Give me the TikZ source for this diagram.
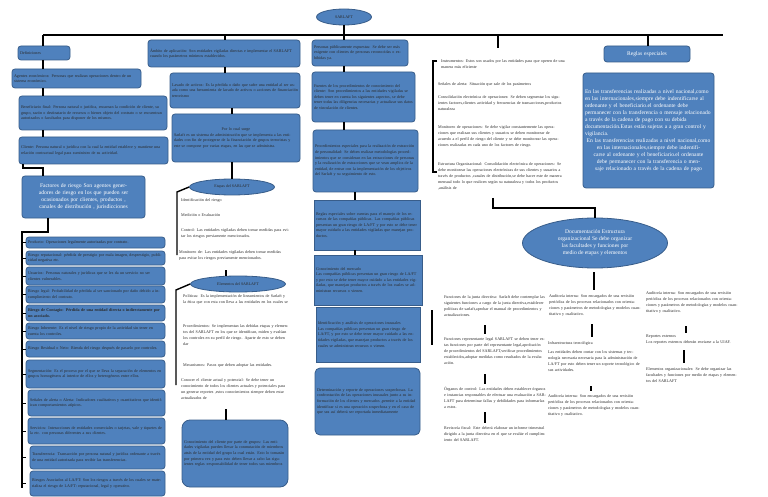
\documentclass[tikz,border=0pt]{standalone}
\usepackage{fontspec}
\setmainfont{Liberation Serif}
\definecolor{boxc}{HTML}{4F81BD}
\definecolor{bordc}{HTML}{385D8A}
\definecolor{txc}{HTML}{2A2A2A}
\tikzset{
 box/.style={draw=bordc,fill=boxc,rounded corners=3pt,line width=0.8pt,inner sep=2pt,align=left,text=txc,font=\fontsize{4.1}{5.6}\selectfont},
 sqbox/.style={box,rounded corners=0pt},
 wt/.style={text=white,font=\fontsize{5.6}{7}\selectfont,align=center},
 plain/.style={inner sep=1pt,align=left,text=txc,font=\fontsize{4.1}{6}\selectfont,anchor=north west},
 elli/.style={ellipse,draw=bordc,fill=boxc,line width=0.8pt,inner sep=0pt,text=txc,font=\fontsize{4}{5}\selectfont},
 conn/.style={line width=1.4pt,black},
 thick2/.style={line width=2pt,black}
}
\usetikzlibrary{shapes.geometric}
\newcommand\bx[7][]{\pgfmathsetmacro\bw{#5-#3}\pgfmathsetmacro\bh{#6-#4}\pgfmathsetmacro\tw{#5-#3-4}%
 \node[box,#1,minimum width=\bw pt,minimum height=\bh pt,text width=\tw pt] (#2) at ({(#3+#5)/2},{-(#4+#6)/2}) {#7};}
\newcommand\tx[5]{\node[plain,text width=#4pt] (#1) at (#2,-#3) {#5};}
\begin{document}
\begin{tikzpicture}[x=1pt,y=1pt]
\useasboundingbox (0,0) rectangle (768,-497);
\fill[white] (0,0) rectangle (768,-497);
% title and top bar
\node[elli,minimum width=55pt,minimum height=16pt] (title) at (344,-17) {SARLAFT};
\coordinate (tl) at (43,-35); \coordinate (tr) at (723,-35);
\draw[conn] (title.south) -- (344,-35);
\draw[conn] (tl) -- (tr);
% left column
\bx{def}{18}{46}{70}{60}{\centering Definiciones}
\bx{age}{12}{69}{141}{88}{Agentes económicos: Personas que realizan operaciones dentro de un sistema económico.}
\bx{ben}{19}{96}{167}{130}{Beneficiario final: Persona natural o jurídica, encarnan la condición de cliente, su grupo, razón o destinatario de recursos o bienes objeto del contrato o se encuentran autorizados o facultados para disponer de los mismos.}
\bx{cli}{19}{137}{168}{164}{Cliente: Persona natural o jurídica con la cual la entidad establece y mantiene una relación contractual legal para suministro de su actividad.}
\bx[wt]{fac}{22}{176}{145}{218}{Factores de riesgo Son agentes generadores de riesgo en los que pueden ser ocasionados por clientes, productos , canales de distribución , jurisdicciones}
\draw[conn] (tl) -- (def.north -| tl);
\draw[conn] (43,-60) -- (43,-69);
\draw[conn] (43,-88) -- (43,-96);
\draw[conn] (43,-130) -- (43,-137);
\draw[conn] (23,-164) -- (23,-168) -- (43,-168) -- (fac.north -| 43,0);
\draw[conn] (48,-218) -- (48,-232) -- (22,-232) -- (22,-488);
\bx{r1}{26}{237}{165}{248}{Producto: Operaciones legalmente autorizadas por contrato.}
\bx{r2}{26}{251}{165}{265}{Riesgo reputacional: pérdida de prestigio por mala imagen, desprestigio, publicidad negativa etc.}
\bx{r3}{26}{267}{165}{285}{Usuarios: Personas naturales y jurídicas que se les da un servicio no ser clientes vulnerables.}
\bx{r4}{26}{286}{165}{303}{Riesgo legal: Probabilidad de pérdida al ser sancionado por daño debido a incumplimiento del contrato.}
\bx{r5}{26}{305}{165}{321}{\textbf{Riesgo de Contagio: Pérdida de una entidad directa o indirectamente por un asociado.}}
\bx{r6}{26}{323}{165}{339}{Riesgo Inherente: Es el nivel de riesgo propio de la actividad sin tener en cuenta los controles.}
\bx{r7}{26}{341}{165}{357}{Riesgo Residual o Neto: Rienda del riesgo después de pasarlo por controles.}
\bx{r8}{26}{360}{165}{388}{Segmentación: Es el proceso por el que se lleva la separación de elementos en grupos homogéneos al interior de ellos y heterogéneos entre ellos.}
\bx{r9}{28}{390}{165}{416}{Señales de alerta o Alerta: Indicadores cualitativos y cuantitativos que identifican comportamientos atípicos.}
\bx{r10}{28}{418}{165}{444}{Servicios: Interacciones de entidades comerciales o tarjetas, vale y tiquetes de la etc. con personas diferentes a sus clientes.}
\bx{r11}{30}{446}{165}{469}{Transferencia: Transacción por persona natural y jurídica ordenante a través de una entidad autorizada para recibir las transferencias.}
\bx{r12}{30}{471}{165}{496}{Riesgos Asociados al LA/FT: Son los riesgos a través de los cuales se materializa el riesgo de LA/FT: reputacional, legal y operativo.}
\foreach \yy in {242,258,276,294,313,331,349,374,403,431,457,483} \draw[line width=0.8pt] (22,-\yy) -- (26,-\yy);
% column 2
\bx{amb}{148}{40}{300}{67}{Ámbito de aplicación: Son entidades vigiladas directas e implementar el SARLAFT cuando los parámetros mínimos establecidos.}
\bx{lav}{170}{73}{300}{108}{\centering Lavado de activos: Es la pérdida o daño que sufre una entidad al ser usada como una herramienta de lavado de activos o acciones de financiación terrorismo}
\bx{sur}{172}{114}{300}{162}{\centering Por lo cual surge\par\raggedright Sarlaft es un sistema de administración que se implementa a las entidades con fin de protegerse de la financiación de grupos terroristas y este se compone por varias etapas, en las que se administra.}
\draw[conn] (225,-35) -- (amb.north -| 225,0);
\draw[conn] (225,-67) -- (225,-73);
\draw[conn] (232,-108) -- (232,-114);
\node[elli,minimum width=85pt,minimum height=16pt] (eta) at (232,-187) {Etapas del SARLAFT};
\draw[conn] (232,-162) -- (eta.north);
\draw[conn] (eta.west) -- (177,-192) -- (177,-255);
\tx{e1}{180}{197}{110}{Identificación del riesgo}
\tx{e2}{180}{212}{110}{Medición o Evaluación}
\tx{e3}{180}{227}{110}{Control: Las entidades vigiladas deben tomar medidas para evitar los riesgos previamente mencionados.}
\tx{e4}{178}{249}{110}{Monitoreo de: Las entidades vigiladas deben tomar medidas para evitar los riesgos previamente mencionados.}
\node[elli,minimum width=95pt,minimum height=16pt] (ele) at (238,-284) {Elementos del SARLAFT};
\draw[conn] (226,-270) -- (ele.north -| 226,0);
\draw[conn] (ele.west) -- (176,-290) -- (176,-385);
\tx{l1}{182}{293}{105}{Políticas: Es la implementación de lineamientos de Sarlaft y la ética que con esta con lleva a las entidades en los cuales se}
\tx{l2}{182}{323}{105}{Procedimientos: Se implementan las debidas etapas y elementos del SARLAFT en los que se identifican, miden y evalúan los controles en su perfil de riesgo. Aparte de esto se deben dar}
\tx{l3}{182}{362}{105}{Mecanismos: Pasos que deben adoptar las entidades.}
\tx{l4}{180}{377}{105}{Conocer el cliente actual y potencial: Se debe tener un conocimiento de todos los clientes actuales y potenciales para un generar reportes ,estos conocimientos siempre deben estar actualizados de}
\bx[rounded corners=8pt]{kyc}{182}{420}{288}{487}{Conocimiento del cliente por parte de grupos: Las entidades vigiladas pueden llevar la conmutación de miembros atrás de la entidad del grupo la cual están. Esto lo tomarán por primera vez y para esto deben llevar a cabo las siguientes reglas :responsabilidad de tener todos sus miembros}
\draw[conn] (226,-409) -- (kyc.north -| 226,0);
% column 3
\bx{pep}{312}{40}{408}{66}{Personas públicamente expuestas: Se debe ser más exigente con clientes de personas reconocidas o exhibidas ya.}
\bx{fue}{312}{72}{415}{122}{Fuentes de los procedimientos de conocimiento del cliente: Son procedimientos a las entidades vigiladas se deben tener en cuenta los siguientes aspectos, se debe tener todas las diligencias necesarias y actualizar sus datos de vinculación de clientes.}
\bx{pro}{313}{130}{418}{192}{Procedimientos especiales para la realización de extracción de personalidad: Se deben realizar metodologías procedimientos que se consideran en las extracciones de personas y la realización de extracciones que se vean amplios de la entidad, de entrar con la implementación de los objetivos del Sarlaft y su seguimiento de esto.}
\bx[sqbox]{reg}{314}{200}{420}{250}{Reglas especiales sobre cuentas para el manejo de los recursos de las compañías públicas. Las compañías públicas presentan un gran riesgo de LA/FT y por esto se debe tener mayor cuidado a las entidades vigiladas que manejan productos.}
\bx[sqbox]{mer}{314}{255}{422}{305}{Conocimiento del mercado\par Las compañías públicas presentan un gran riesgo de LA/FT y por esto se debe tener mayor cuidado a las entidades vigiladas, que manejan productos a través de los cuales se administran recursos o vienen.}
\bx[sqbox]{ide}{316}{307}{420}{362}{Identificación y análisis de operaciones inusuales\par Las compañías públicas presentan un gran riesgo de LA/FT, y por esto se debe tener mayor cuidado a las entidades vigiladas, que manejan productos a través de los cuales se administran recursos o vienen.}
\bx[rounded corners=5pt]{det}{315}{368}{420}{435}{Determinación y reporte de operaciones sospechosas. La confrontación de las operaciones inusuales junto a su información de los clientes y mercados ,permite a la entidad identificar si es una operación sospechosa y en el caso de que sea así deberá ser reportada inmediatamente}
\draw[conn] (title.south) -- (pep.north -| 344,0);
\draw[conn] (344,-66) -- (344,-72);
\draw[conn] (344,-122) -- (344,-130);
\draw[conn] (355,-192) -- (355,-200);
\draw[conn] (355,-250) -- (355,-255);
% column 4
\draw[conn] (498,-35) -- (498,-48);
\draw[conn] (437,-61) -- (433,-61) -- (433,-172) -- (437,-172);
\tx{c1}{440}{58}{125}{Instrumentos: Estos son usados por las entidades para que operen de una manera más eficiente}
\tx{c2}{437}{81}{125}{Señales de alerta: Situación que sale de los parámetros}
\tx{c3}{437}{94}{125}{Consolidación electrónica de operaciones: Se deben segmentar los siguientes factores,clientes actividad y frecuencias de transacciones,productos naturaleza}
\tx{c4}{437}{124}{125}{Monitoreo de operaciones: Se debe vigilar constantemente las operaciones que realizan sus clientes y usuarios se deben monitorear de acuerdo a el perfil de riesgo del cliente y se debe monitorear las operaciones realizadas en cada uno de los factores de riesgo.}
\tx{c5}{437}{161}{125}{Estructura Organizacional: Consolidación electrónica de operaciones: Se debe monitorear las operaciones electrónicas de sus clientes y usuarios a través de productos ,canales de distribución,se debe hacer este de manera mensual todo lo que realicen según su naturaleza y todos los productos ,análisis de}
\node[elli,minimum width=145pt,minimum height=50pt,text=white,font=\fontsize{5.6}{7}\selectfont,align=center] (doc) at (595,-243) {Documentación Estructura\\organizacional Se debe organizar\\las facultades y funciones por\\medio de etapas y elementos};
\draw[conn] (493,-198) -- (493,-208) -- (595,-208) -- (doc.north);
\tx{j1}{443}{294}{102}{Funciones de la junta directiva: Sarlaft debe contemplar las siguientes funciones a cargo de la junta directiva,establecer políticas de sarlaft,aprobar el manual de procedimientos y actualizaciones.}
\tx{j2}{443}{336}{102}{Funciones representante legal SARLAFT se deben tener estas funciones por parte del representante legal,aprobación de procedimientos del SARLAFT,verificar procedimientos establecidos,adoptar medidas como resultados de la evaluación.}
\tx{j3}{443}{386}{102}{Órganos de control: Las entidades deben establecer órganos e instancias responsables de efectuar una evaluación a SARLAFT para determinar fallas y debilidades para informarlas a estos.}
\tx{j4}{443}{425}{102}{Revisoría fiscal: Este deberá elaborar un informe trimestral dirigido a la junta directiva en el que se evalúe el cumplimiento del SARLAFT.}
\draw[conn] (432,-310) -- (432,-345);
\draw[thick2] (485,-325) -- (485,-334);
\draw[thick2] (485,-374) -- (485,-384);
\draw[thick2] (485,-412) -- (485,-423);
\draw[thick2] (594,-272) -- (594,-290);
\tx{a1}{548}{293}{92}{Auditoría interna: Son encargados de una revisión periódica de los procesos relacionados con orientaciones y parámetros de metodologías y modelos cuantitativo y cualitativo.}
\draw[thick2] (592,-324) -- (592,-337);
\tx{a2}{547}{340}{92}{Infraestructura tecnológica\par\vspace{3pt}Las entidades deben contar con los sistemas y tecnología necesaria necesaria para la administración de LA/FT por esto deben tener un soporte tecnológico de sus actividades.}
\draw[thick2] (591,-386) -- (591,-391);
\tx{a3}{547}{393}{92}{Auditoría interna: Son encargados de una revisión periódica de los procesos relacionados con orientaciones y parámetros de metodologías y modelos cuantitativo y cualitativo.}
\tx{b1}{645}{290}{92}{Auditoría interna: Son encargados de una revisión periódica de los procesos relacionados con orientaciones y parámetros de metodologías y modelos cuantitativo y cualitativo.}
\draw[thick2] (686,-326) -- (686,-333);
\tx{b2}{645}{334}{92}{Reportes externos\\Los reportes externos deberán enviarse a la UIAF.}
\draw[thick2] (684,-350) -- (684,-363);
\tx{b3}{645}{366}{92}{Elementos organizacionales: Se debe organizar las facultades y funciones por medio de etapas y elementos del SARLAFT}
% right
\bx[wt]{res}{604}{46}{690}{62}{\centering Reglas especiales}
\bx[wt]{big}{583}{73}{714}{188}{\raggedright En las transferencias realizadas a nivel nacional,como en las internacionales,siempre debe indentificarse al ordenante y el beneficiario.el ordenante debe permanecer con la transferencia o mensaje relacionado a través de la cadena de pago con su debida documentación.Estas están sujetas a a gran control y vigilancia.\par En las transferencias realizadas a nivel nacional,como en las internacionales,siempre debe indentificarse al ordenante y el beneficiario.el ordenante debe permanecer con la transferencia o mensaje relacionado a través de la cadena de pago}
\draw[conn] (648,-35) -- (res.north -| 648,0);
\end{tikzpicture}
\end{document}
